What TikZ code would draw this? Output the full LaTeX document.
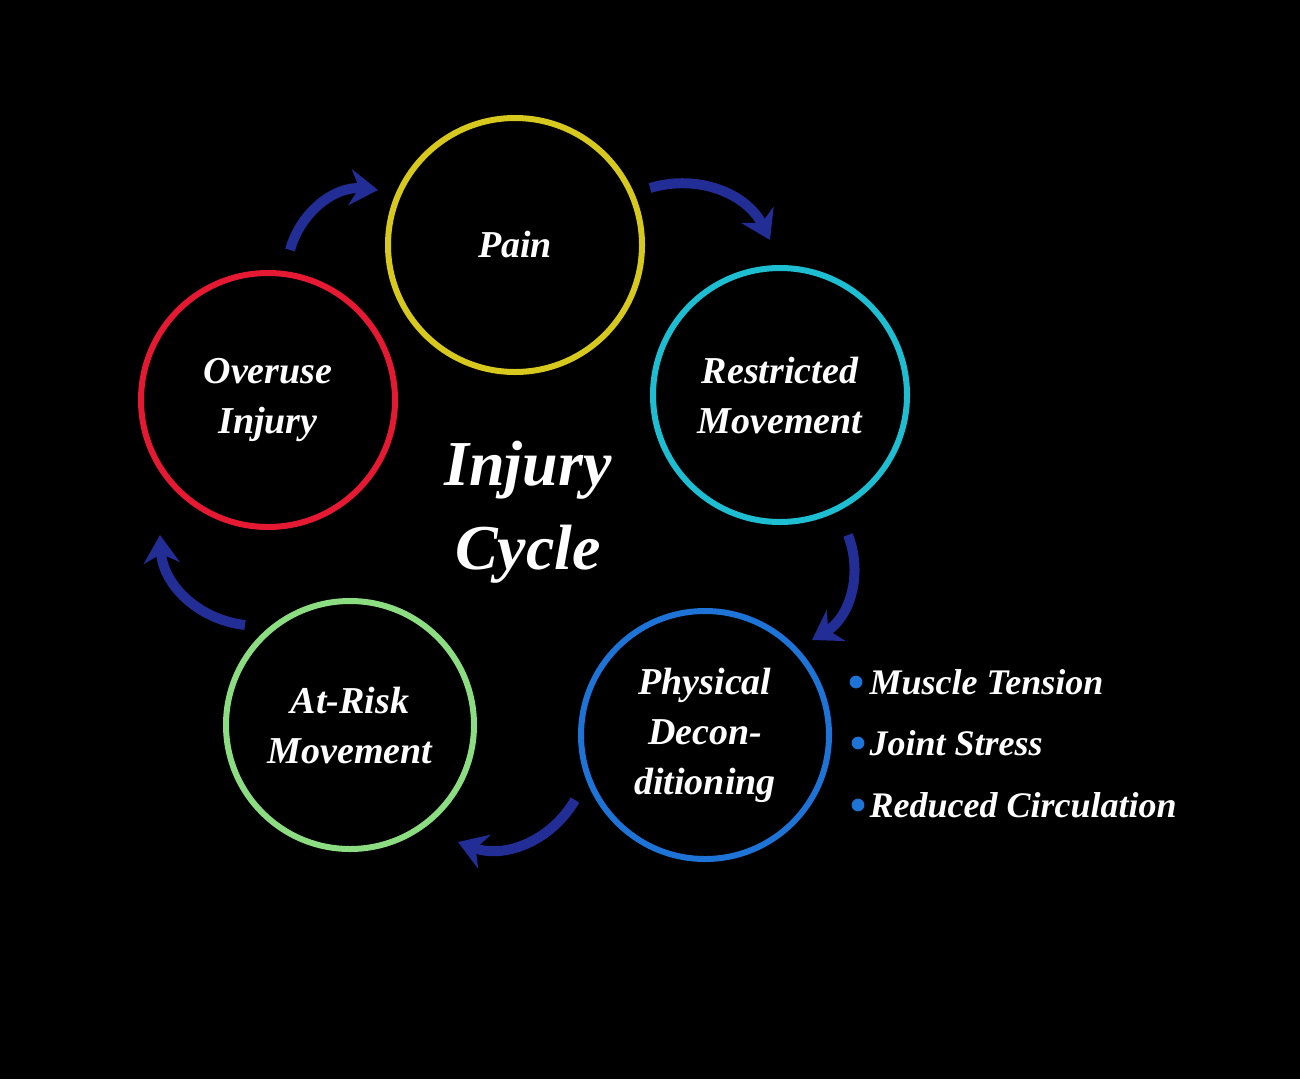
\documentclass[tikz,border=0pt]{standalone}
\usepackage{fontspec}
\setmainfont{Liberation Serif}
\usetikzlibrary{arrows.meta}
\definecolor{cy}{RGB}{215,200,30}
\definecolor{cc}{RGB}{30,190,210}
\definecolor{cb}{RGB}{30,115,215}
\definecolor{cg}{RGB}{140,220,130}
\definecolor{cr}{RGB}{230,25,50}
\definecolor{ca}{RGB}{35,45,150}
\tikzset{ring/.style={circle,draw=#1,line width=6pt,minimum size=254pt,text=white,font=\itshape\bfseries\fontsize{38}{50}\selectfont,align=center},
flow/.style={draw=ca,line width=10pt,-{Stealth[length=28pt,width=36pt]}},
bul/.style={text=white,font=\itshape\bfseries\fontsize{36}{40}\selectfont,anchor=west}}
\begin{document}
\begin{tikzpicture}[x=1pt,y=-1pt]
\fill[black] (0,0) rectangle (1300,1079);
\node[ring=cy] (pain) at (515,245) {Pain};
\node[ring=cc] (rm) at (780,395) {Restricted\\Movement};
\node[ring=cb,minimum size=248pt] (pd) at (705,735) {Physical\\Decon-\\ditioning};
\node[ring=cg,minimum size=248pt] (ar) at (350,725) {At-Risk\\Movement};
\node[ring=cr] (ov) at (268,400) {Overuse\\Injury};
\node[text=white,font=\itshape\bfseries\fontsize{64}{84}\selectfont,align=center] (t) at (528,512) {Injury\\Cycle};
\coordinate (a1) at (290,250); \coordinate (a2) at (378,190);
\coordinate (b1) at (650,188); \coordinate (b2) at (770,240);
\coordinate (c1) at (848,535); \coordinate (c2) at (812,640);
\coordinate (d1) at (575,800); \coordinate (d2) at (458,842);
\coordinate (e1) at (245,625); \coordinate (e2) at (160,535);
\draw[flow] (a1) to[bend left=40] (a2);
\draw[flow] (b1) to[bend left=40] (b2);
\draw[flow] (c1) to[bend left=40] (c2);
\draw[flow] (d1) to[bend left=40] (d2);
\draw[flow] (e1) to[bend left=40] (e2);
\node[circle,fill=cb,inner sep=4.5pt] (p1) at (856,682) {};
\node[circle,fill=cb,inner sep=4.5pt] (p2) at (858,743) {};
\node[circle,fill=cb,inner sep=4.5pt] (p3) at (858,805) {};
\node[bul] at (866,682) {Muscle Tension};
\node[bul] at (866,743) {Joint Stress};
\node[bul] at (866,805) {Reduced Circulation};
\end{tikzpicture}
\end{document}
